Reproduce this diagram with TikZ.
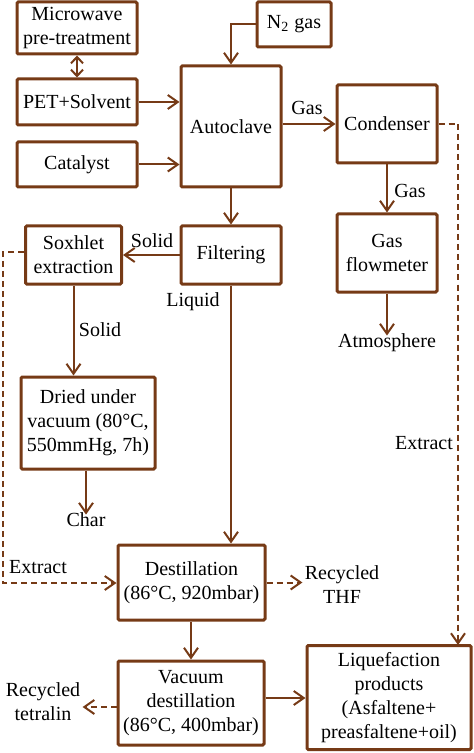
\documentclass[tikz,border=0pt]{standalone}
\usepackage{fontspec}
\setmainfont{Liberation Serif}
\usetikzlibrary{arrows.meta}
\definecolor{brn}{RGB}{118,58,22}
\tikzset{
  box/.style={draw=brn, line width=1.5pt, rounded corners=0.6pt, inner sep=0pt, align=center, font=\fontsize{10}{12}\selectfont},
  lbl/.style={inner sep=0pt, align=center, font=\fontsize{10}{12}\selectfont},
  tip/.tip={Straight Barb[length=5pt,width=7pt,line width=1pt]},
  stip/.tip={Straight Barb[length=3.2pt,width=6pt,line width=1pt]},
  conn/.style={draw=brn, line width=1pt, -tip},
  dconn/.style={conn, dash pattern=on 3pt off 2pt},
}
\begin{document}
\begin{tikzpicture}[x=0.5pt,y=-0.5pt]
\useasboundingbox (0,0) rectangle (474,753);
% boxes
\node[box, minimum width=60pt, minimum height=26pt] (micro) at (77,28) {Microwave\\pre-treatment};
\node[box, minimum width=60pt, minimum height=23pt] (pet) at (77,102) {PET+Solvent};
\node[box, minimum width=60pt, minimum height=22.5pt] (cat) at (77,164.5) {Catalyst};
\node[box, minimum width=50pt, minimum height=60.5pt] (auto) at (231,126.5) {Autoclave};
\node[box, minimum width=37pt, minimum height=22.5pt] (n2) at (294,24.5) {N\textsubscript{2} gas};
\node[box, minimum width=50pt, minimum height=39pt] (cond) at (387,124) {Condenser};
\node[box, minimum width=50pt, minimum height=39pt] (flow) at (387,253) {Gas\\flowmeter};
\node[box, minimum width=50pt, minimum height=29pt] (filt) at (231,255) {Filtering};
\node[box, minimum width=48pt, minimum height=29pt] (sox) at (73.5,255) {Soxhlet\\extraction};
\node[box, minimum width=67pt, minimum height=46pt] (dried) at (88,423) {Dried under\\vacuum (80°C,\\550mmHg, 7h)};
\node[box, minimum width=73.5pt, minimum height=37.5pt] (dest) at (191.5,582.5) {Destillation\\(86°C, 920mbar)};
\node[box, minimum width=73pt, minimum height=42pt] (vac) at (191,703) {Vacuum\\destillation\\(86°C, 400mbar)};
\node[box, minimum width=82pt, minimum height=52pt] (liq) at (389,697.5) {Liquefaction\\products\\(Asfaltene+\\preasfaltene+oil)};
% free text nodes
\node[lbl] (atm) at (387,343) {Atmosphere};
\node[lbl] (char) at (86,520) {Char};
\node[lbl] (thf) at (342,585) {Recycled\\THF};
\node[lbl] (tet) at (43,702) {Recycled\\tetralin};
% labels
\node[lbl] (lgas1) at (307,108) {Gas};
\node[lbl] (lgas2) at (410,191) {Gas};
\node[lbl] (lsol1) at (152,241) {Solid};
\node[lbl] (lsol2) at (100,330) {Solid};
\node[lbl] (lliq) at (193,302) {Liquid};
\node[lbl] (lext1) at (38,567) {Extract};
\node[lbl] (lext2) at (424,443) {Extract};
% coordinates
\coordinate (c1) at (231,24);
\coordinate (c2) at (458,124);
\coordinate (c3) at (458,645);
\coordinate (c4) at (3,252);
\coordinate (c5) at (3,583);
% connectors
\draw[conn, stip-stip] (micro.south) -- (pet.north);
\draw[conn] (pet.east) -- (pet.east -| auto.west);
\draw[conn] (cat.east) -- (cat.east -| auto.west);
\draw[conn] (n2.west |- c1) -- (c1) -- (c1 |- auto.north);
\draw[conn] (auto.east |- cond.west) -- (cond.west);
\draw[conn] (cond.south) -- (flow.north);
\draw[conn] (flow.south) -- ([yshift=-1pt]atm.north);
\draw[conn] (auto.south) -- (filt.north);
\draw[conn] (filt.west) -- (sox.east);
\draw[conn] (sox.south) -- (sox.south |- dried.north);
\draw[conn] (dried.south -| char) -- ([yshift=-1pt]char.north);
\draw[conn] (filt.south) -- (filt.south |- dest.north);
\draw[conn] (dest.south -| vac.north) -- (vac.north);
\draw[conn] (vac.east |- 0,698) -- (liq.west |- 0,698);
\draw[dconn] (dest.east) -- ([xshift=-1pt]thf.west |- dest.east);
\draw[dconn] (vac.west |- 0,707) -- ([xshift=1pt]tet.east |- 0,707);
\draw[dconn] (cond.east) -- (c2) -- (c3);
\draw[dconn] (sox.west |- c4) -- (c4) -- (c5) -- (dest.west |- c5);
\end{tikzpicture}
\end{document}
